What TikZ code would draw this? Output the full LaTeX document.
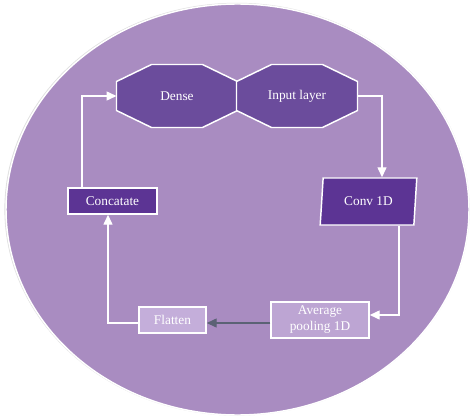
\documentclass[tikz,border=0pt]{standalone}
\usepackage{fontspec}
\setmainfont{Liberation Serif}
\usetikzlibrary{shapes.geometric,arrows.meta,backgrounds}

\definecolor{ovalFill}{RGB}{169,140,193}
\definecolor{octFill}{RGB}{107,76,156}
\definecolor{darkFill}{RGB}{92,52,148}
\definecolor{avgFill}{RGB}{189,165,211}
\definecolor{flatFill}{RGB}{196,174,218}
\definecolor{slateArrow}{RGB}{91,98,117}

% octagon drawn round a named node: corners cut 26.25pt across, 12.75pt down (y is flipped here)
\newcommand{\octoutline}[1]{%
	\draw [octline] ([xshift=26.25pt]#1.north west) -- ([xshift=-26.25pt]#1.north east) -- ([yshift=12.75pt]#1.north east) -- ([yshift=-12.75pt]#1.south east) -- ([xshift=-26.25pt]#1.south east) -- ([xshift=26.25pt]#1.south west) -- ([yshift=-12.75pt]#1.south west) -- ([yshift=12.75pt]#1.north west) -- cycle;}

\tikzset{every picture/.style={line width=0.75pt}}
\tikzset{
	octbox/.style={rectangle, minimum width=90pt, minimum height=46.5pt, inner sep=0pt, text=white, font=\fontsize{10}{12}\selectfont},
	octline/.style={draw=white, line width=1.1pt, fill=octFill, line join=miter},
	plainbox/.style={rectangle, draw=white, line width=1.1pt, text=white, inner sep=0pt, font=\fontsize{10}{12}\selectfont, align=center},
	conn/.style={draw=white, line width=1.1pt, -{Triangle[length=7.5pt,width=6.75pt]}},
	slateconn/.style={draw=slateArrow, line width=1.1pt, -{Triangle[length=7.5pt,width=6.75pt]}}
}

\begin{document}
\begin{tikzpicture}[x=0.75pt,y=0.75pt,yscale=-1,xscale=1]
	\useasboundingbox (0,0) rectangle (474,420);
	
	% Text Node
	\draw (177,96) node [octbox] (dense) {Dense};
	% Text Node
	\draw (297,96) node [octbox] (input) {Input layer};
	% Text Node
	\draw (368.5,201.5) node [trapezium, trapezium left angle=80, trapezium right angle=100, trapezium stretches=true, minimum width=72.75pt, minimum height=35.25pt, inner sep=0pt, draw=white, line width=1.1pt, fill=darkFill, text=white, font=\fontsize{10}{12}\selectfont] (conv) {Conv 1D};
	% Text Node
	\draw (112.5,201) node [plainbox, fill=darkFill, minimum width=66.75pt, minimum height=19.5pt] (concat) {Concatate};
	% Text Node
	\draw (320,320) node [plainbox, fill=avgFill, minimum width=73.5pt, minimum height=27pt] (avg) {Average\\pooling 1D};
	% Text Node
	\draw (172.5,320) node [plainbox, fill=flatFill, minimum width=50.25pt, minimum height=19.5pt] (flatten) {Flatten};
	
	\begin{scope}[on background layer]
		%Shape: Ellipse [id:oval] 
		\fill [gray, opacity=0.25] (237,209.2) ellipse [x radius=232.6, y radius=206.4];
		\draw [draw=white, line width=1.1pt, fill=ovalFill] (237.5,209.5) ellipse [x radius=231.5, y radius=205.5];
		%Shape: Octagons [id:dense, input] 
		\octoutline{dense}
		\octoutline{input}
	\end{scope}
	
	%Straight Lines [id:inTurn] 
	\coordinate (inTurn) at (382,96);
	\draw [conn] (input.east) -- (inTurn) -- (inTurn |- conv.north);
	%Straight Lines [id:convTurn] 
	\coordinate (convTurn) at (399,315);
	\draw [conn] (convTurn |- conv.south) -- (convTurn) -- (convTurn -| avg.east);
	%Straight Lines [id:avgFlat] 
	\draw [slateconn] ([yshift=2.25pt]avg.west) -- ([yshift=2.25pt]flatten.east);
	%Straight Lines [id:flatTurn] 
	\coordinate (flatTurn) at (108,323);
	\draw [conn] (flatten.west |- flatTurn) -- (flatTurn) -- (flatTurn |- concat.south);
	%Straight Lines [id:concTurn] 
	\coordinate (concTurn) at (82,96);
	\draw [conn] (concTurn |- concat.north) -- (concTurn) -- (dense.west);
	
\end{tikzpicture}
\end{document}
